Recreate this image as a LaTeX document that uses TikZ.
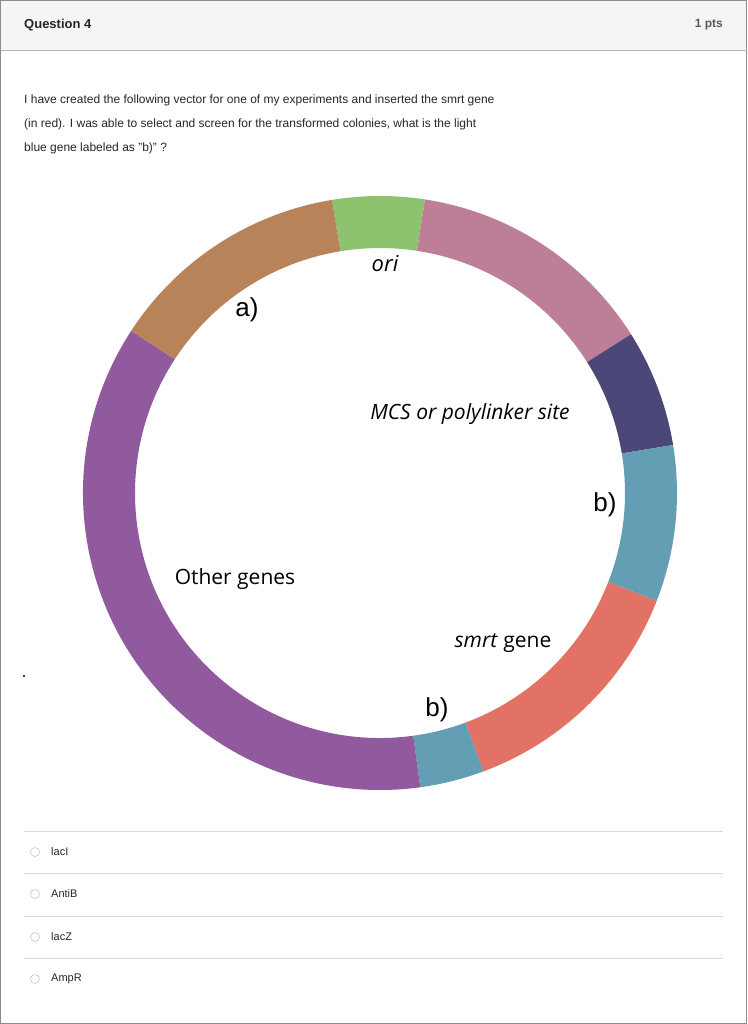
\documentclass[tikz,border=0pt]{standalone}
\usetikzlibrary{calc}
\usepackage{fontspec}
\setmainfont{Liberation Sans}
\newfontfamily\lab{Open Sans}
\definecolor{cgreen}{HTML}{8DC26F}
\definecolor{cpink}{HTML}{BD7E98}
\definecolor{cnavy}{HTML}{4B4779}
\definecolor{cblue}{HTML}{649EB5}
\definecolor{cred}{HTML}{E27266}
\definecolor{cpurple}{HTML}{925A9E}
\definecolor{cbrown}{HTML}{B9835A}
\definecolor{cline}{HTML}{D9D9D9}
\begin{document}
\begin{tikzpicture}[x=1pt,y=-1pt,
  body/.style={anchor=west,inner sep=0pt,font=\fontsize{12}{14}\selectfont,text=black!85},
  ring/.style={text=black,inner sep=0pt},
  radio/.style={draw=black!30,circle,minimum size=9pt,inner sep=0pt}]
\useasboundingbox (0,0) rectangle (747,1024);
\fill[white] (0,0) rectangle (747,1024);
\fill[black!4] (0,0) rectangle (747,50);
\draw[black!45] (0.5,0.5) rectangle (746.5,1023.5);
\draw[black!30] (0.5,50) -- (746.5,50);
\node[body,font=\bfseries\fontsize{13}{15}\selectfont] (q) at (24,25) {Question 4};
\node[body,anchor=east,font=\bfseries\fontsize{12}{14}\selectfont,text=black!65] (pts) at (723,25) {1 pts};
\node[body] (t1) at (24,100) {I have created the following vector for one of my experiments and inserted the smrt gene};
\node[body] (t2) at (24,124) {(in red). I was able to select and screen for the transformed colonies, what is the light};
\node[body] (t3) at (24,148) {blue gene labeled as "b)" ?};
% ring
\coordinate (c) at (380,493);
\foreach \a/\b/\col in {81.3/99.3/cgreen, 32.3/81.3/cpink, 9.3/32.3/cnavy, -21.3/9.3/cblue, -69.6/-21.3/cred, -82.2/-69.6/cblue, 146.9/277.8/cpurple, 99.3/146.9/cbrown}{
  \fill[\col] ($(c)+(-\a:297)$) arc[start angle=-\a,end angle=-\b,radius=297] -- ($(c)+(-\b:245)$) arc[start angle=-\b,end angle=-\a,radius=245] -- cycle;
}
\node[ring,font=\lab\itshape\fontsize{22}{24}\selectfont] (ori) at (385,264) {ori};
\node[ring,font=\fontsize{26}{28}\selectfont] (a) at (247,310) {a)};
\node[ring,font=\lab\itshape\fontsize{21}{24}\selectfont] (mcs) at (470,414) {MCS or polylinker site};
\node[ring,font=\fontsize{26}{28}\selectfont] (b1) at (605,505) {b)};
\node[ring,font=\lab\fontsize{21}{24}\selectfont] (og) at (235,579) {Other genes};
\node[ring,font=\lab\fontsize{21}{24}\selectfont] (smrt) at (503,643) {\textit{smrt} gene};
\node[ring,font=\fontsize{26}{28}\selectfont] (b2) at (437,710) {b)};
\fill[black] (24,676) circle (1.2);
% options
\foreach \y in {831,873,916,958} \draw[cline] (24,\y) -- (723,\y);
\foreach \y/\t/\n in {852/lacI/o1,894/AntiB/o2,937/lacZ/o3,979/AmpR/o4}{
  \node[radio] (r\n) at (35,\y) {};
  \node[body,font=\fontsize{11}{13}\selectfont] (\n) at (51,\y) {\t};
}
\end{tikzpicture}
\end{document}
